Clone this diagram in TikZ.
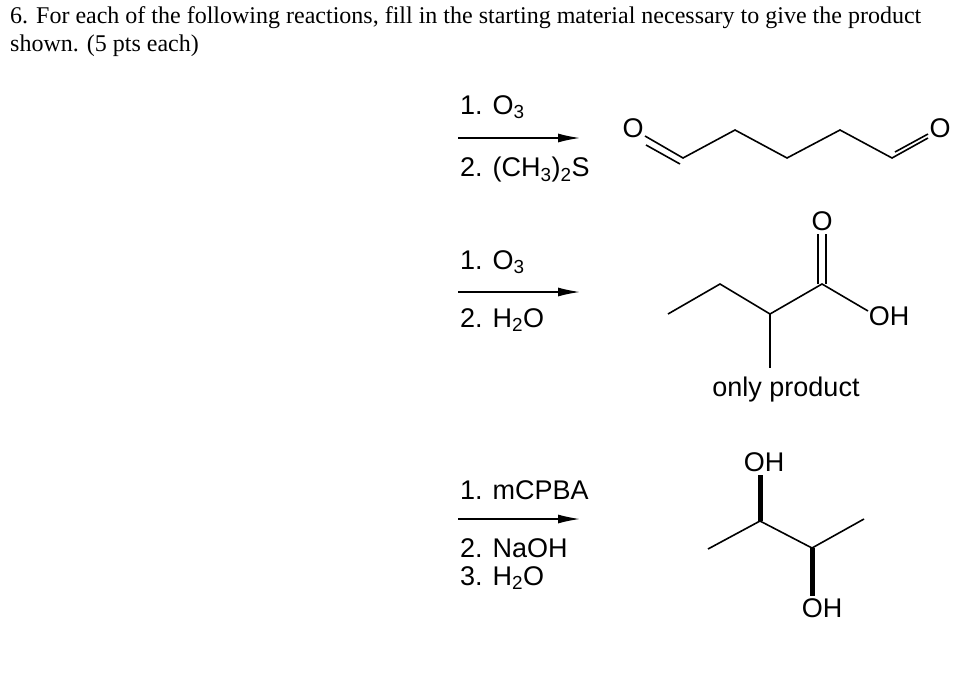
\documentclass[tikz,border=0pt]{standalone}
\usepackage{fontspec}
\setmainfont{Liberation Serif}
\newfontfamily\arial{Liberation Sans}
\usetikzlibrary{arrows.meta}
\begin{document}
\begin{tikzpicture}[x=1pt,y=-1pt,
  bond/.style={line width=1.6pt},
  bold/.style={line width=5pt},
  lbl/.style={font=\arial\fontsize{27}{30}\selectfont,inner sep=0pt},
  reag/.style={font=\arial\fontsize{27}{30}\selectfont,inner sep=0pt,anchor=west},
  rxn/.style={line width=1.5pt,-{Latex[length=22pt,width=9pt]}}]
\useasboundingbox (0,0) rectangle (965,674);
\node[anchor=north west,align=left,inner sep=0pt,font=\fontsize{24}{28}\selectfont] (title) at (10,6)
 {6. For each of the following reactions, fill in the starting material necessary to give the product\\shown. (5 pts each)};
% reaction 1
\coordinate (a1) at (458,138); \coordinate (b1) at (580,138);
\draw[rxn] (a1) -- (b1);
\node[reag] (r11) at (460,107) {1. O\textsubscript{3}};
\node[reag] (r12) at (460,170) {2. (CH\textsubscript{3})\textsubscript{2}S};
\node[lbl] (o1) at (633,128) {O};
\node[lbl] (o2) at (940,128) {O};
\coordinate (c1) at (683,158); \coordinate (c2) at (735,130); \coordinate (c3) at (787,158);
\coordinate (c4) at (840,130); \coordinate (c5) at (892,158);
\draw[bond] (645,136) -- (c1) -- (c2) -- (c3) -- (c4) -- (c5) -- (928,138);
\draw[bond] (646,145) -- (680,164);
\draw[bond] (895,152) -- (928,134);
% reaction 2
\coordinate (a2) at (458,292); \coordinate (b2) at (580,292);
\draw[rxn] (a2) -- (b2);
\node[reag] (r21) at (460,262) {1. O\textsubscript{3}};
\node[reag] (r22) at (460,320) {2. H\textsubscript{2}O};
\coordinate (d1) at (668,314); \coordinate (d2) at (720,284); \coordinate (d3) at (770,314);
\coordinate (d4) at (822,284); \coordinate (d5) at (770,368);
\node[lbl] (o3) at (822,221) {O};
\node[lbl] (oh1) at (889,316) {OH};
\draw[bond] (d1) -- (d2) -- (d3) -- (d4) -- (868,311);
\draw[bond] (d3) -- (d5);
\draw[bond] (818,284) -- (818,234);
\draw[bond] (826,284) -- (826,234);
\node[lbl] (only) at (786,390) {only product};
% reaction 3
\coordinate (a3) at (458,519); \coordinate (b3) at (580,519);
\draw[rxn] (a3) -- (b3);
\node[reag] (r31) at (460,490) {1. mCPBA};
\node[reag] (r32) at (460,548) {2. NaOH};
\node[reag] (r33) at (460,578) {3. H\textsubscript{2}O};
\coordinate (e1) at (708,549); \coordinate (e2) at (760,521); \coordinate (e3) at (812,548); \coordinate (e4) at (864,519);
\node[lbl] (oh2) at (764,462) {OH};
\node[lbl] (oh3) at (822,608) {OH};
\draw[bond] (e1) -- (e2) -- (e3) -- (e4);
\draw[bold] (e2) -- (760,475);
\draw[bold] (e3) -- (812,596);
\end{tikzpicture}
\end{document}
